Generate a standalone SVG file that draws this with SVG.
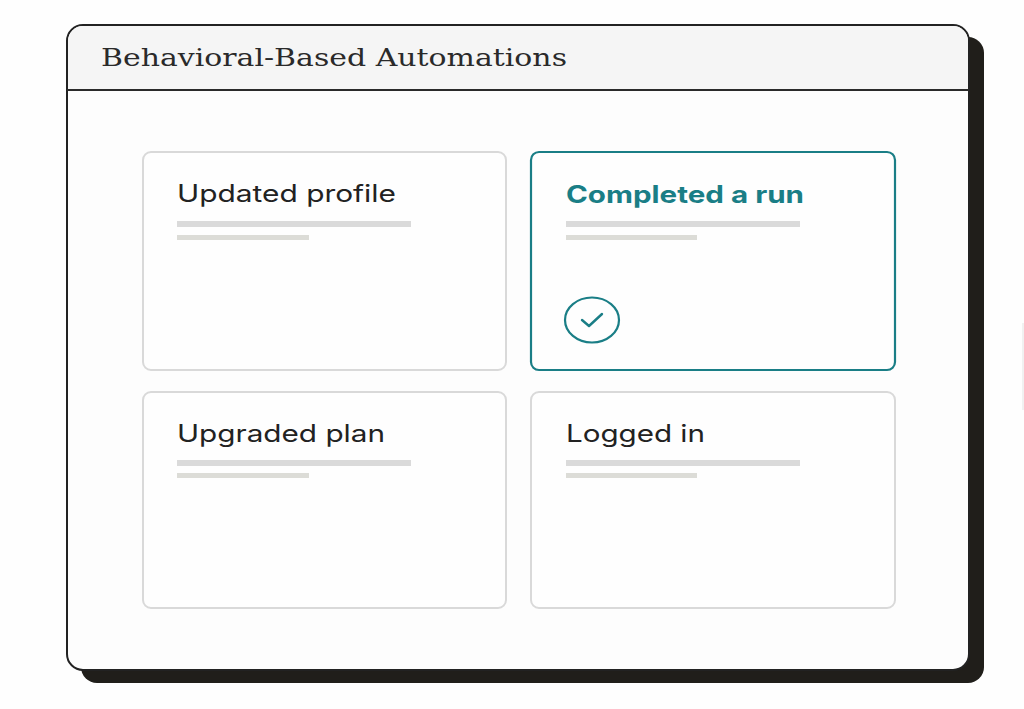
<svg xmlns="http://www.w3.org/2000/svg" width="1024" height="709" viewBox="0 0 1024 709">
  <style>
    .card { fill: #fefefe; stroke: #d9d9d9; stroke-width: 2; }
    .card-active { fill: #fefefe; stroke: #1a7e86; stroke-width: 2.2; }
    .label { font-family: "Inter", "Liberation Sans", sans-serif; font-size: 24px; fill: #222222; }
    .label-active { font-family: "Inter", "Liberation Sans", sans-serif; font-size: 24px; font-weight: 700; fill: #1a7e86; }
    .bar1 { fill: #dadada; }
    .bar2 { fill: #dcdcd7; }
    .title { font-family: "DejaVu Serif", "Liberation Serif", serif; font-size: 25px; fill: #2a2a2a; }
  </style>
  <rect x="0" y="0" width="1024" height="709" fill="#fefefe"/>
  <line x1="1023" y1="323" x2="1023" y2="410" stroke="#ececec" stroke-width="1.5"/>

  <g id="window">
    <rect x="81" y="37" width="903" height="646" rx="16" fill="#201e1a"/>
    <rect x="67" y="25" width="902" height="645" rx="16" fill="#fdfdfd" stroke="#222222" stroke-width="2"/>
    <path d="M68 90 V41 A15 15 0 0 1 83 26 H953 A15 15 0 0 1 968 41 V90 Z" fill="#f5f5f5"/>
    <line x1="67" y1="90" x2="969" y2="90" stroke="#2a2a2a" stroke-width="2"/>
    <text class="title" x="101" y="66" textLength="466" lengthAdjust="spacingAndGlyphs">Behavioral-Based Automations</text>
  </g>

  <g id="card-updated-profile">
    <rect class="card" x="143" y="152" width="363" height="218" rx="8"/>
    <text class="label" x="177" y="202" textLength="219" lengthAdjust="spacingAndGlyphs">Updated profile</text>
    <rect class="bar1" x="177" y="221" width="234" height="6"/>
    <rect class="bar2" x="177" y="235" width="132" height="5"/>
  </g>

  <g id="card-completed-a-run">
    <rect class="card-active" x="531" y="152" width="364" height="218" rx="8"/>
    <text class="label-active" x="566" y="203" textLength="238" lengthAdjust="spacingAndGlyphs">Completed a run</text>
    <rect class="bar1" x="566" y="221" width="234" height="6"/>
    <rect class="bar2" x="566" y="235" width="131" height="5"/>
    <ellipse cx="592" cy="320" rx="27" ry="22.5" fill="none" stroke="#1a7e86" stroke-width="2.2"/>
    <polyline points="582,320 589,326 602,314" fill="none" stroke="#1a7e86" stroke-width="2.4" stroke-linecap="round" stroke-linejoin="round"/>
  </g>

  <g id="card-upgraded-plan">
    <rect class="card" x="143" y="392" width="363" height="216" rx="8"/>
    <text class="label" x="177" y="442" textLength="208" lengthAdjust="spacingAndGlyphs">Upgraded plan</text>
    <rect class="bar1" x="177" y="460" width="234" height="6"/>
    <rect class="bar2" x="177" y="473" width="132" height="5"/>
  </g>

  <g id="card-logged-in">
    <rect class="card" x="531" y="392" width="364" height="216" rx="8"/>
    <text class="label" x="566" y="442" textLength="139" lengthAdjust="spacingAndGlyphs">Logged in</text>
    <rect class="bar1" x="566" y="460" width="234" height="6"/>
    <rect class="bar2" x="566" y="473" width="131" height="5"/>
  </g>

  <g id="connectors"></g>
</svg>
